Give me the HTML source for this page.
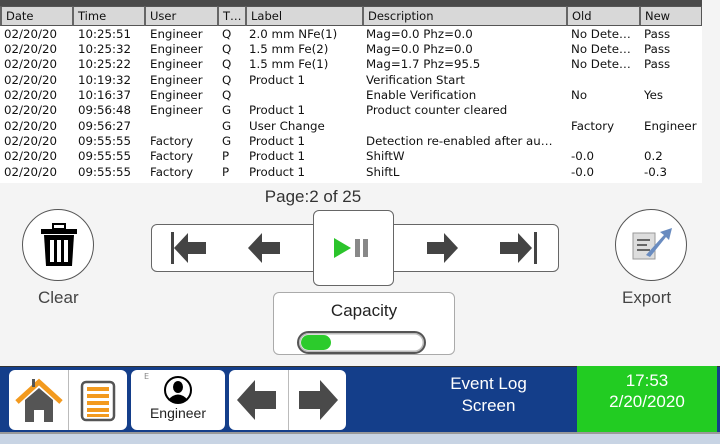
<!DOCTYPE html>
<html><head><meta charset="utf-8"><style>
*{margin:0;padding:0;box-sizing:border-box}
body{width:720px;height:444px;overflow:hidden;background:#f4f4f4;font-family:"DejaVu Sans","Liberation Sans",sans-serif;position:relative}
.a{position:absolute}
#tbl{left:0;top:0;width:702px;height:183px;background:#fff;border-top:6px solid #4a4a4a;}
.hd{position:absolute;top:0;height:20px;background:#d8d8d8;border:1px solid #555;border-left:2px solid #666;font-size:11.5px;line-height:18px;padding-left:4px;color:#111}
.r{position:absolute;left:0;width:700px;height:15px;font-size:11.8px;line-height:15px;color:#111}
.r span{position:absolute;white-space:nowrap}
.circ{width:72px;height:72px;border-radius:50%;border:1.5px solid #555;background:#fff}
.lbl{font-size:17px;color:#444;font-family:"Liberation Sans",sans-serif}
.btn{background:#fff;border-radius:6px}
</style></head><body>
<div id="tbl" class="a">
<div class="hd" style="left:0;width:73px">Date</div>
<div class="hd" style="left:72px;width:73px">Time</div>
<div class="hd" style="left:144px;width:74px">User</div>
<div class="hd" style="left:217px;width:29px">T…</div>
<div class="hd" style="left:245px;width:118px">Label</div>
<div class="hd" style="left:362px;width:205px">Description</div>
<div class="hd" style="left:566px;width:74px">Old</div>
<div class="hd" style="left:639px;width:63px">New</div>
<div class="r" style="top:21px"><span style="left:4px">02/20/20</span><span style="left:78px">10:25:51</span><span style="left:150px">Engineer</span><span style="left:222px">Q</span><span style="left:249px">2.0 mm NFe(1)</span><span style="left:366px">Mag=0.0 Phz=0.0</span><span style="left:571px">No Dete…</span><span style="left:644px">Pass</span></div>
<div class="r" style="top:36px"><span style="left:4px">02/20/20</span><span style="left:78px">10:25:32</span><span style="left:150px">Engineer</span><span style="left:222px">Q</span><span style="left:249px">1.5 mm Fe(2)</span><span style="left:366px">Mag=0.0 Phz=0.0</span><span style="left:571px">No Dete…</span><span style="left:644px">Pass</span></div>
<div class="r" style="top:51px"><span style="left:4px">02/20/20</span><span style="left:78px">10:25:22</span><span style="left:150px">Engineer</span><span style="left:222px">Q</span><span style="left:249px">1.5 mm Fe(1)</span><span style="left:366px">Mag=1.7 Phz=95.5</span><span style="left:571px">No Dete…</span><span style="left:644px">Pass</span></div>
<div class="r" style="top:67px"><span style="left:4px">02/20/20</span><span style="left:78px">10:19:32</span><span style="left:150px">Engineer</span><span style="left:222px">Q</span><span style="left:249px">Product 1</span><span style="left:366px">Verification Start</span></div>
<div class="r" style="top:82px"><span style="left:4px">02/20/20</span><span style="left:78px">10:16:37</span><span style="left:150px">Engineer</span><span style="left:222px">Q</span><span style="left:366px">Enable Verification</span><span style="left:571px">No</span><span style="left:644px">Yes</span></div>
<div class="r" style="top:97px"><span style="left:4px">02/20/20</span><span style="left:78px">09:56:48</span><span style="left:150px">Engineer</span><span style="left:222px">G</span><span style="left:249px">Product 1</span><span style="left:366px">Product counter cleared</span></div>
<div class="r" style="top:113px"><span style="left:4px">02/20/20</span><span style="left:78px">09:56:27</span><span style="left:222px">G</span><span style="left:249px">User Change</span><span style="left:571px">Factory</span><span style="left:644px">Engineer</span></div>
<div class="r" style="top:128px"><span style="left:4px">02/20/20</span><span style="left:78px">09:55:55</span><span style="left:150px">Factory</span><span style="left:222px">G</span><span style="left:249px">Product 1</span><span style="left:366px">Detection re-enabled after au…</span></div>
<div class="r" style="top:143px"><span style="left:4px">02/20/20</span><span style="left:78px">09:55:55</span><span style="left:150px">Factory</span><span style="left:222px">P</span><span style="left:249px">Product 1</span><span style="left:366px">ShiftW</span><span style="left:571px">-0.0</span><span style="left:644px">0.2</span></div>
<div class="r" style="top:159px"><span style="left:4px">02/20/20</span><span style="left:78px">09:55:55</span><span style="left:150px">Factory</span><span style="left:222px">P</span><span style="left:249px">Product 1</span><span style="left:366px">ShiftL</span><span style="left:571px">-0.0</span><span style="left:644px">-0.3</span></div>
</div>

<div class="a lbl" style="left:260px;top:187px;width:106px;text-align:center;color:#333">Page:2 of 25</div>

<div class="a circ" style="left:22px;top:209px"></div>
<svg class="a" style="left:38px;top:222px" width="42" height="48" viewBox="0 0 42 48"><rect x="15" y="2" width="12" height="5" fill="none" stroke="#000" stroke-width="2"/><rect x="3" y="7" width="36" height="5" fill="#000"/><path d="M6 13h30l-2 31H8z" fill="#000"/><rect x="12" y="18" width="4" height="22" fill="#fff"/><rect x="19" y="18" width="4" height="22" fill="#fff"/><rect x="26" y="18" width="4" height="22" fill="#fff"/></svg>
<div class="a lbl" style="left:38px;top:288px">Clear</div>

<div class="a circ" style="left:615px;top:209px"></div>
<svg class="a" style="left:630px;top:225px" width="44" height="40" viewBox="0 0 44 40"><rect x="3" y="8" width="22" height="26" fill="#ddd" stroke="#999"/><rect x="7" y="14" width="13" height="2" fill="#666"/><rect x="7" y="19" width="10" height="2" fill="#666"/><rect x="7" y="24" width="13" height="2" fill="#666"/><path d="M16 30 L34 10 L30 7 L42 3 L39 15 L36 12 L20 32z" fill="#6a8cc0"/></svg>
<div class="a lbl" style="left:622px;top:288px">Export</div>

<div class="a btn" style="left:151px;top:224px;width:408px;height:48px;border:1.5px solid #666"></div>
<svg class="a" style="left:151px;top:224px" width="408" height="48">
<rect x="20" y="8" width="3" height="32" fill="#444"/><path d="M23 24 L37 9 V18 H55 V30 H37 V39z" fill="#444"/>
<path d="M97 24 L111 9 V18 H129 V30 H111 V39z" fill="#444"/>
<path d="M307 24 L293 9 V18 H276 V30 H293 V39z" fill="#444"/>
<rect x="383" y="8" width="3" height="32" fill="#444"/><path d="M381 24 L367 9 V18 H349 V30 H367 V39z" fill="#444"/>
</svg>
<div class="a btn" style="left:313px;top:210px;width:81px;height:76px;border:1.5px solid #666"></div>
<svg class="a" style="left:313px;top:210px" width="81" height="76"><path d="M21 28 L38 38 L21 48z" fill="#2bc42b"/><rect x="42" y="29" width="5" height="18" fill="#888"/><rect x="50" y="29" width="5" height="18" fill="#888"/></svg>

<div class="a btn" style="left:273px;top:292px;width:182px;height:63px;border:1px solid #aaa"></div>
<div class="a lbl" style="left:273px;top:301px;width:182px;text-align:center;color:#222">Capacity</div>
<div class="a" style="left:297px;top:331px;width:129px;height:23px;border:2px solid #555;border-radius:12px;background:#fff;box-shadow:inset 0 0 0 1.5px #bbb"></div>
<div class="a" style="left:301px;top:335px;width:30px;height:15px;border-radius:8px;background:#2ccb2c"></div>

<div class="a" style="left:0;top:366px;width:720px;height:66px;background:#143e8a;border-top:1px solid #333"></div>
<div class="a" style="left:577px;top:366px;width:140px;height:66px;background:#22cc22"></div>
<div class="a" style="left:577px;top:370px;width:140px;text-align:center;color:#fff;font-size:17px;line-height:21px;font-family:'Liberation Sans',sans-serif">17:53<br>2/20/2020</div>
<div class="a" style="left:400px;top:373px;width:177px;text-align:center;color:#fff;font-size:17px;line-height:22px;font-family:'Liberation Sans',sans-serif">Event Log<br>Screen</div>
<div class="a" style="left:0;top:432px;width:720px;height:2px;background:#999"></div>
<div class="a" style="left:0;top:434px;width:720px;height:10px;background:#c8d4e4"></div>

<div class="a btn" style="left:9px;top:370px;width:118px;height:60px"></div>
<div class="a" style="left:68px;top:370px;width:1px;height:60px;background:#bbb"></div>
<svg class="a" style="left:9px;top:370px" width="118" height="60"><path d="M8 32 L30 12 L52 32" fill="none" stroke="#f39a1e" stroke-width="5"/><path d="M16 30 L30 18 L44 30 V52 H35 V40 H25 V52 H16z" fill="#555"/><rect x="23" y="9" width="3" height="8" fill="#555"/>
<rect x="73" y="12" width="32" height="38" rx="4" fill="#fff" stroke="#555" stroke-width="2.5"/><g fill="#f39a1e"><rect x="78" y="17" width="22" height="4"/><rect x="78" y="24" width="22" height="4"/><rect x="78" y="31" width="22" height="4"/><rect x="78" y="38" width="22" height="4"/><rect x="78" y="44" width="22" height="3"/></g></svg>
<div class="a btn" style="left:131px;top:370px;width:94px;height:60px"></div>
<div class="a" style="left:144px;top:372px;font-size:8px;color:#888">E</div>
<svg class="a" style="left:163px;top:375px" width="30" height="30"><circle cx="15" cy="15" r="13" fill="#fff" stroke="#000" stroke-width="2"/><ellipse cx="15" cy="12" rx="5" ry="6" fill="#000"/><path d="M5 25 Q15 14 25 25 Q15 30 5 25z" fill="#000"/></svg>
<div class="a" style="left:131px;top:405px;width:94px;text-align:center;font-size:14px;color:#222;font-family:'Liberation Sans',sans-serif">Engineer</div>
<div class="a btn" style="left:229px;top:370px;width:117px;height:60px"></div>
<div class="a" style="left:288px;top:370px;width:1px;height:60px;background:#bbb"></div>
<svg class="a" style="left:229px;top:370px" width="117" height="60"><path d="M8 30 L26 10 V21 H47 V39 H26 V50z" fill="#4a4a4a"/><path d="M109 30 L91 10 V21 H70 V39 H91 V50z" fill="#4a4a4a"/></svg>
</body></html>
